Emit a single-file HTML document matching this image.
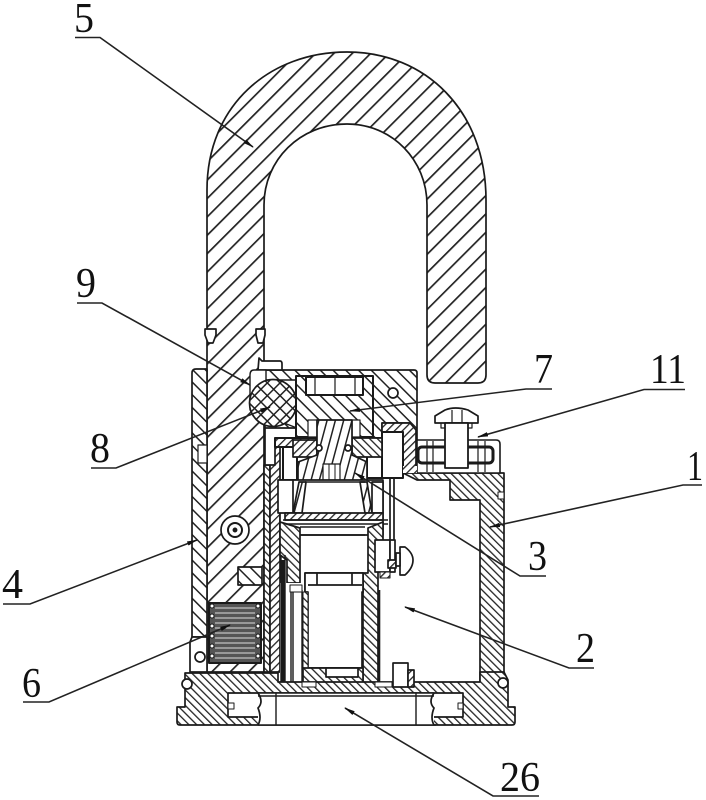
<!DOCTYPE html>
<html><head><meta charset="utf-8"><style>
html,body{margin:0;padding:0;background:#fff}
svg{display:block}
text{font-family:"Liberation Serif",serif;font-size:42px;fill:#111}
</style></head><body>
<svg width="706" height="800" viewBox="0 0 706 800" xmlns="http://www.w3.org/2000/svg">
<defs>
<pattern id="a" width="13" height="13" patternUnits="userSpaceOnUse" patternTransform="rotate(45)"><rect width="13" height="13" fill="#fff"/><rect width="1.7" height="13" fill="#222"/></pattern>
<pattern id="b" width="9" height="9" patternUnits="userSpaceOnUse" patternTransform="rotate(-45)"><rect width="9" height="9" fill="#fff"/><rect width="1.5" height="9" fill="#222"/></pattern>
<pattern id="c" width="5.5" height="5.5" patternUnits="userSpaceOnUse" patternTransform="rotate(45)"><rect width="5.5" height="5.5" fill="#fff"/><rect width="1.3" height="5.5" fill="#222"/></pattern>
<pattern id="d" width="5.5" height="5.5" patternUnits="userSpaceOnUse" patternTransform="rotate(-45)"><rect width="5.5" height="5.5" fill="#fff"/><rect width="1.3" height="5.5" fill="#222"/></pattern>
<pattern id="e" width="8" height="8" patternUnits="userSpaceOnUse" patternTransform="rotate(15)"><rect width="8" height="8" fill="#fff"/><rect width="1.5" height="8" fill="#222"/></pattern>
<pattern id="f" width="9" height="9" patternUnits="userSpaceOnUse" patternTransform="rotate(45)"><rect width="9" height="9" fill="#fff"/><rect width="1.5" height="9" fill="#222"/><rect width="9" height="1.5" fill="#222"/></pattern>
<marker id="m" markerWidth="11" markerHeight="6" refX="10" refY="3" orient="auto" markerUnits="userSpaceOnUse"><path d="M0,0.8 L11,3 L0,5.2Z" fill="#111"/></marker>
</defs>
<g stroke="#1a1a1a" stroke-width="1.7" stroke-linejoin="round">
<!-- shackle -->
<path fill="url(#a)" d="M207,672 L207,190 C207,105 270,52 347,52 C425,52 486,110 486,200 L486,375 Q486,383 478,383 L435,383 Q427,383 427,375 L427,205 C427,160 392,124 347,124 C300,124 264,160 264,205 L264,365 L264,672 Z"/>
<path fill="#fff" d="M205,329h11v6l-3,8h-5l-3,-8zM256,329h9v6l-2,8h-5l-2,-8z"/>
<!-- sleeve -->
<path fill="url(#b)" d="M192,373 Q192,369 196,369 L207,369 L207,637 L192,637Z"/>
<rect x="198" y="445" width="9" height="18" fill="#fff" stroke-width="1.2"/>
<path fill="#fff" d="M192,637 L207,637 L207,672 L190,672 L190,642Z"/>
<circle cx="200" cy="657" r="5" fill="#fff"/>
<!-- spring -->
<rect x="209" y="603" width="52" height="60" fill="#555" stroke-width="2"/>
<g stroke="#ddd" stroke-width="1" fill="none"><path d="M215,608H255M215,613H255M215,618H255M215,623H255M215,628H255M215,633H255M215,638H255M215,643H255M215,648H255M215,653H255M215,658H255"/></g>
<g fill="#fff" stroke-width="1"><circle cx="212" cy="606" r="2"/><circle cx="212" cy="616" r="2"/><circle cx="212" cy="626" r="2"/><circle cx="212" cy="636" r="2"/><circle cx="212" cy="646" r="2"/><circle cx="212" cy="656" r="2"/><circle cx="258" cy="606" r="2"/><circle cx="258" cy="616" r="2"/><circle cx="258" cy="626" r="2"/><circle cx="258" cy="636" r="2"/><circle cx="258" cy="646" r="2"/><circle cx="258" cy="656" r="2"/></g>
<!-- pin, key -->
<circle cx="235" cy="530" r="14" fill="#fff"/><circle cx="235" cy="530" r="7" fill="#fff" stroke-width="2"/><circle cx="235" cy="530" r="1.6" fill="#222"/>
<rect x="238" y="567" width="24" height="18" fill="url(#b)"/>
<!-- inner sleeve walls -->
<rect x="264" y="465" width="6" height="207" fill="url(#d)"/>
<path fill="url(#c)" d="M270,440 L280,440 L280,672 L270,672Z"/>
<!-- top block -->
<path fill="url(#b)" d="M265,370 L414,370 Q417,370 417,373 L417,473 L403,473 L403,438 L265,438Z"/>
<circle cx="393" cy="393" r="5" fill="#fff"/>
<path fill="#fff" d="M259,358 L262,361 L280,361 Q282,361 282,364 L282,370 L258,370 Z"/>
<path fill="#fff" d="M250,375 Q250,370 254,370 L266,370 L266,380 L297,380 L297,428 L250,410 Z" stroke-width="1.4"/>
<rect x="265" y="428" width="32" height="10" fill="#fff" stroke="none"/>
<path fill="#fff" d="M265,428 H297 V438 H275 V465 H265Z"/>
<!-- ball -->
<circle cx="273" cy="403" r="23.5" fill="url(#f)"/>
<!-- cylinder -->
<rect x="296" y="376" width="77" height="61" fill="url(#b)" stroke-width="2"/>
<rect x="306" y="377" width="57" height="18" fill="#fff" stroke-width="2"/><path fill="none" d="M315,377V395M335,377V395M355,377V395" stroke-width="1.2"/>
<!-- collar strip -->
<rect x="275" y="438" width="128" height="9" fill="url(#c)" stroke-width="2"/>
<rect x="382" y="423" width="28" height="9" fill="url(#c)"/>
<path fill="url(#c)" d="M382,423 L410,423 L416,430 L416,473 L403,473 L403,432 L382,432Z"/>
<rect x="382" y="432" width="21" height="46" fill="#fff" stroke-width="2"/>
<rect x="283" y="447" width="14" height="33" fill="#fff" stroke-width="2"/>
<rect x="367" y="447" width="15" height="31" fill="#fff" stroke-width="2"/>
<rect x="293" y="440" width="24" height="17" fill="url(#c)"/>
<rect x="352" y="438" width="30" height="19" fill="url(#d)"/>
<!-- shaft -->
<rect x="308" y="420" width="9" height="17" fill="#fff" stroke-width="1.2"/>
<rect x="352" y="420" width="8" height="17" fill="#fff" stroke-width="1.2"/>
<path fill="url(#e)" d="M317,420 L352,420 L352,455 L367,462 L367,482 L298,482 L298,462 L317,455Z"/>
<circle cx="319" cy="448" r="3" fill="#fff"/><circle cx="348" cy="448" r="3" fill="#fff"/>
<rect x="323" y="464" width="17" height="18" fill="#fff" stroke-width="1.2"/>
<path fill="none" d="M329,464V482M335,464V482" stroke-width="1"/>
<!-- lens chamber -->
<rect x="280" y="480" width="103" height="55" fill="#fff"/>
<path fill="url(#e)" d="M299,482 H306 L302,513 H293Z"/>
<path fill="url(#e)" d="M360,482 H367 L372,513 H365Z"/>
<rect x="278" y="480" width="15" height="33" fill="#fff"/>
<rect x="372" y="482" width="11" height="31" fill="#fff"/>
<rect x="285" y="513" width="98" height="7" fill="url(#c)"/>
<path fill="none" d="M305,482H365M283,520H388M283,524H388M300,527H365M300,535H365" stroke-width="1.4"/>
<path fill="none" d="M390,478V540M394,478V540"/>
<!-- motor housing -->
<path fill="url(#d)" d="M280,522 L300,528 L300,583 L287,583 L287,560 L280,555Z"/>
<path fill="url(#d)" d="M368,528 L383,522 L383,540 L378,545 L378,687 L363,687 L363,573 L368,573Z"/>
<rect x="305" y="573" width="58" height="20" fill="#fff"/>
<path fill="#fff" d="M305,573 H363 V592 H362 V668 H308 V592 H305Z"/>
<path fill="none" d="M317,573V585H352V573M308,585H317M352,585H362"/>
<!-- left stripes -->
<rect x="280" y="583" width="23" height="99" fill="#fff" stroke="none"/>
<path fill="none" d="M281,555V682M285,555V682M291,590V682M293,590V682M302,590V682" stroke-width="1.4"/>
<path fill="none" stroke-width="3" d="M283,560V682"/>
<rect x="290" y="585" width="12" height="7" fill="#fff" stroke-width="1"/>
<rect x="303" y="592" width="5" height="76" fill="url(#d)" stroke-width="1"/>
<rect x="303" y="668" width="60" height="17" fill="url(#d)"/>
<rect x="326" y="668" width="32" height="9" fill="#fff"/>
<!-- right cap and wall -->
<path fill="url(#d)" d="M403,473 L504,473 L504,672 L480,682 L480,500 L450,500 L450,480 L417,480 L403,473Z"/>
<rect x="498" y="492" width="6" height="7" fill="#fff" stroke-width="1"/>
<!-- bracket / screw -->
<rect x="375" y="540" width="15" height="32" fill="#fff"/>
<rect x="390" y="540" width="5" height="32" fill="#fff"/>
<rect x="388" y="560" width="8" height="8" fill="url(#c)"/>
<rect x="380" y="572" width="10" height="6" fill="url(#c)" stroke-width="1"/>
<path fill="#fff" d="M400,547 H405 Q413,553 413,560 Q413,568 405,575 H400Z"/>
<rect x="396" y="553" width="4" height="13" fill="#fff"/>
<path fill="none" stroke-width="2.6" d="M379,590V682"/>
<!-- bolt -->
<path fill="#fff" d="M417,440 H496 Q500,440 500,444 V473 H417Z" stroke-width="1.6"/>
<rect x="418" y="447" width="75" height="16" rx="4" fill="#fff" stroke-width="3"/>
<path fill="none" d="M427,441V472M433,441V472M478,441V472M485,441V472" stroke-width="1.2"/>
<path fill="#fff" d="M445,410 Q455,406 468,410 L478,416 L478,423 L435,423 L435,416Z"/>
<rect x="445" y="423" width="23" height="45" fill="#fff" stroke-width="1.8"/>
<path fill="none" d="M452,410V423M462,410V423M441,423V428H445M472,423V428H468" stroke-width="1.2"/>
<rect x="403" y="466" width="14" height="7" fill="url(#c)" stroke="none"/>
<!-- base -->
<path fill="url(#d)" d="M185,673 L264,673 L278,673 L278,682 L480,682 L480,672 L504,672 L508,680 L508,707 L515,707 L515,722 Q515,725 512,725 L180,725 Q177,725 177,722 L177,707 L185,707Z"/>
<rect x="228" y="693" width="235" height="24" fill="#fff"/>
<rect x="258" y="693" width="176" height="32" fill="#fff" stroke="none"/>
<path fill="none" stroke-width="1.4" d="M258,693H434M258,725H436M258,696H434M276,693V725M416,693V725"/>
<path fill="none" d="M258,693 Q264,702 258,708 Q262,718 258,725M434,693 Q428,702 434,708 Q430,718 434,725"/>
<rect x="228" y="703" width="6" height="6" fill="#fff" stroke-width="1"/><rect x="458" y="703" width="5" height="6" fill="#fff" stroke-width="1"/>
<circle cx="187" cy="684" r="5" fill="#fff"/><circle cx="503" cy="683" r="5" fill="#fff"/>
<rect x="393" y="663" width="15" height="24" fill="#fff"/>
<rect x="408" y="670" width="6" height="17" fill="url(#c)"/>
<rect x="302" y="682" width="14" height="5" fill="#fff" stroke-width="1"/>
<rect x="375" y="682" width="17" height="5" fill="#fff" stroke-width="1"/>
</g>
<!-- leaders -->
<g stroke="#222" stroke-width="1.6" fill="none">
<path d="M75,37.5H100L253,147" marker-end="url(#m)"/>
<path d="M77,303H102L250,385" marker-end="url(#m)"/>
<path d="M91,468H116L270,407" marker-end="url(#m)"/>
<path d="M552,389H526L350,411" marker-end="url(#m)"/>
<path d="M685,389.5H644L478,437" marker-end="url(#m)"/>
<path d="M702,485H683L490,527" marker-end="url(#m)"/>
<path d="M546,576H520L355,473" marker-end="url(#m)"/>
<path d="M594,668H569L405,607" marker-end="url(#m)"/>
<path d="M3,604H30L197,540" marker-end="url(#m)"/>
<path d="M23,702H49L230,625" marker-end="url(#m)"/>
<path d="M539,796H493L345,708" marker-end="url(#m)"/>
</g>
<text x="74" y="32" textLength="20" lengthAdjust="spacingAndGlyphs">5</text>
<text x="76" y="297" textLength="20" lengthAdjust="spacingAndGlyphs">9</text>
<text x="90" y="462" textLength="20" lengthAdjust="spacingAndGlyphs">8</text>
<text x="534" y="383" textLength="19" lengthAdjust="spacingAndGlyphs">7</text>
<text x="650" y="383" textLength="36" lengthAdjust="spacingAndGlyphs">11</text>
<text x="687" y="480" textLength="16" lengthAdjust="spacingAndGlyphs">1</text>
<text x="528" y="570" textLength="19" lengthAdjust="spacingAndGlyphs">3</text>
<text x="576" y="662" textLength="19" lengthAdjust="spacingAndGlyphs">2</text>
<text x="2" y="598" textLength="21" lengthAdjust="spacingAndGlyphs">4</text>
<text x="22" y="697" textLength="19" lengthAdjust="spacingAndGlyphs">6</text>
<text x="500" y="791" textLength="40" lengthAdjust="spacingAndGlyphs">26</text>
</svg>
</body></html>
